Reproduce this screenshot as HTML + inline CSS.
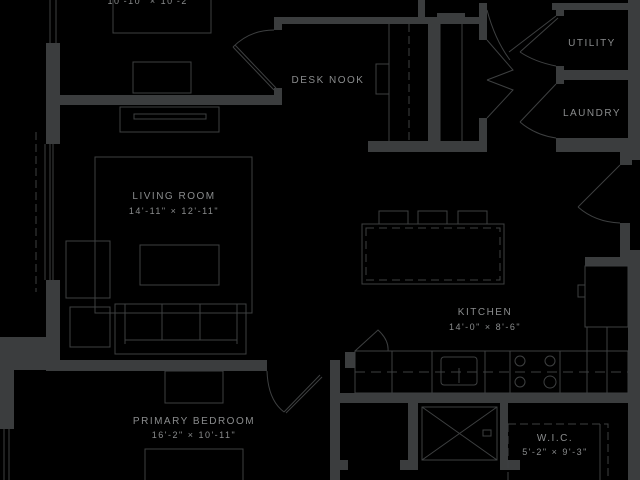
<!DOCTYPE html>
<html><head><meta charset="utf-8"><style>
html,body{margin:0;padding:0;background:#000;}
svg{display:block}
text{font-family:"Liberation Sans",sans-serif;fill:#8a8c8d;text-anchor:middle;letter-spacing:1.5px}
</style></head><body>
<svg width="640" height="480" viewBox="0 0 640 480" xmlns="http://www.w3.org/2000/svg">
<rect width="640" height="480" fill="#000"/>
<g fill="#3b3d3e">
<rect x="46" y="43" width="14" height="101"/>
<rect x="46" y="95" width="236" height="10"/>
<rect x="274" y="88" width="8" height="17"/>
<rect x="274" y="17" width="8" height="13"/>
<rect x="274" y="17" width="213" height="7"/>
<rect x="418" y="0" width="7" height="17"/>
<rect x="437" y="13" width="28" height="4"/>
<rect x="479" y="3" width="8" height="37"/>
<rect x="479" y="118" width="8" height="34"/>
<rect x="368" y="141" width="119" height="11"/>
<rect x="428" y="24" width="12" height="118"/>
<rect x="552" y="3" width="88" height="7"/>
<rect x="628" y="0" width="12" height="160"/>
<rect x="556" y="3" width="8" height="13"/>
<rect x="556" y="70" width="74" height="10"/>
<rect x="556" y="66" width="8" height="18"/>
<rect x="556" y="138" width="74" height="14"/>
<rect x="620" y="150" width="12" height="15"/>
<rect x="620" y="223" width="10" height="40"/>
<rect x="585" y="257" width="45" height="9"/>
<rect x="628" y="250" width="12" height="230"/>
<rect x="46" y="280" width="14" height="90"/>
<rect x="0" y="337" width="60" height="33"/>
<rect x="46" y="360" width="221" height="11"/>
<rect x="0" y="337" width="14" height="92"/>
<rect x="330" y="360" width="10" height="120"/>
<rect x="345" y="352" width="10" height="16"/>
<rect x="330" y="393" width="300" height="10"/>
<rect x="408" y="403" width="10" height="67"/>
<rect x="500" y="403" width="8" height="67"/>
<rect x="400" y="460" width="18" height="10"/>
<rect x="500" y="460" width="20" height="10"/>
<rect x="340" y="460" width="8" height="10"/>
</g>
<g fill="none" stroke="#3e4041" stroke-width="1">
<line x1="50" y1="0" x2="50" y2="43"/><line x1="56" y1="0" x2="56" y2="43"/>
<line x1="45" y1="144" x2="45" y2="280"/><line x1="50" y1="144" x2="50" y2="280"/><line x1="53" y1="144" x2="53" y2="280"/>
<line x1="36" y1="132" x2="36" y2="292" stroke-dasharray="8,4"/>
<line x1="4" y1="429" x2="4" y2="480"/><line x1="9" y1="429" x2="9" y2="480"/>
<rect x="113" y="-2" width="98" height="35"/>
<rect x="133" y="62" width="58" height="31"/>
<rect x="120" y="107" width="99" height="25"/>
<rect x="134" y="114" width="72" height="5"/>
<line x1="274" y1="90" x2="233" y2="47"/><line x1="276" y1="88" x2="235" y2="45"/>
<path d="M233,47 Q250,30 274,30"/>
<rect x="95" y="157" width="157" height="156"/>
<rect x="140" y="245" width="79" height="40"/>
<rect x="66" y="241" width="44" height="57"/>
<rect x="70" y="307" width="40" height="40"/>
<rect x="115" y="304" width="131" height="50"/>
<line x1="125" y1="304" x2="125" y2="344"/><line x1="162" y1="304" x2="162" y2="340"/><line x1="200" y1="304" x2="200" y2="340"/><line x1="237" y1="304" x2="237" y2="344"/><line x1="125" y1="340" x2="237" y2="340"/>
<rect x="165" y="371" width="58" height="32"/>
<rect x="145" y="449" width="98" height="40"/>
<path d="M267,371 Q268,400 284,412"/><line x1="284" y1="412" x2="320" y2="375"/><line x1="286" y1="413" x2="322" y2="377"/>
<rect x="376" y="64" width="13" height="30"/>
<line x1="389" y1="24" x2="389" y2="141"/><line x1="409" y1="24" x2="409" y2="141" stroke-dasharray="8,4"/>
<line x1="440" y1="24" x2="440" y2="141"/><line x1="462" y1="24" x2="462" y2="141"/>
<polyline points="487,40 513,70 487,80"/><polyline points="487,118 513,90 487,80"/>
<path d="M487,10 Q495,40 510,60"/>
<line x1="556" y1="16" x2="509" y2="52"/><line x1="558" y1="18" x2="520" y2="52"/>
<path d="M520,52 Q535,62 556,66"/>
<line x1="556" y1="84" x2="520" y2="122"/><path d="M520,122 Q535,135 556,138"/>
<line x1="620" y1="165" x2="578" y2="207"/><path d="M578,207 Q595,222 620,223"/>
<rect x="379" y="211" width="29" height="13"/><rect x="418" y="211" width="29" height="13"/><rect x="458" y="211" width="29" height="13"/>
<rect x="362" y="224" width="142" height="60"/>
<rect x="366" y="228" width="134" height="52" stroke-dasharray="8,5"/>
<rect x="585" y="266" width="43" height="61"/><rect x="578" y="285" width="7" height="12"/>
<rect x="355" y="351" width="273" height="42"/>
<line x1="355" y1="372" x2="628" y2="372" stroke-dasharray="10,6"/>
<line x1="392" y1="351" x2="392" y2="393"/><line x1="432" y1="351" x2="432" y2="393"/>
<line x1="485" y1="351" x2="485" y2="393"/><line x1="510" y1="351" x2="510" y2="393"/><line x1="560" y1="351" x2="560" y2="393"/>
<line x1="587" y1="327" x2="587" y2="393"/><line x1="607" y1="327" x2="607" y2="393"/>
<rect x="441" y="357" width="36" height="28" rx="3"/>
<line x1="459" y1="368" x2="459" y2="383"/>
<circle cx="520" cy="361" r="5"/><circle cx="550" cy="361" r="5"/><circle cx="520" cy="382" r="5"/><circle cx="550" cy="382" r="6"/>
<path d="M355,351 L378,330 Q389,340 388,351"/>
<rect x="422" y="407" width="75" height="53"/>
<line x1="422" y1="407" x2="497" y2="460"/><line x1="497" y1="407" x2="422" y2="460"/>
<rect x="483" y="430" width="8" height="6"/>
<rect x="508" y="424" width="100" height="60" stroke-dasharray="8,4"/>
<line x1="600" y1="424" x2="600" y2="480"/>
</g>
<text x="150" y="4" font-size="9">10'-10" × 10'-2"</text>
<text x="328" y="83" font-size="10">DESK NOOK</text>
<text x="592" y="46" font-size="10">UTILITY</text>
<text x="592" y="116" font-size="10">LAUNDRY</text>
<text x="174" y="199" font-size="10">LIVING ROOM</text>
<text x="174" y="214" font-size="9">14'-11" × 12'-11"</text>
<text x="485" y="315" font-size="10">KITCHEN</text>
<text x="485" y="330" font-size="9">14'-0" × 8'-6"</text>
<text x="194" y="424" font-size="10">PRIMARY BEDROOM</text>
<text x="194" y="438" font-size="9">16'-2" × 10'-11"</text>
<text x="555" y="441" font-size="10">W.I.C.</text>
<text x="555" y="455" font-size="9">5'-2" × 9'-3"</text>
</svg>
</body></html>
